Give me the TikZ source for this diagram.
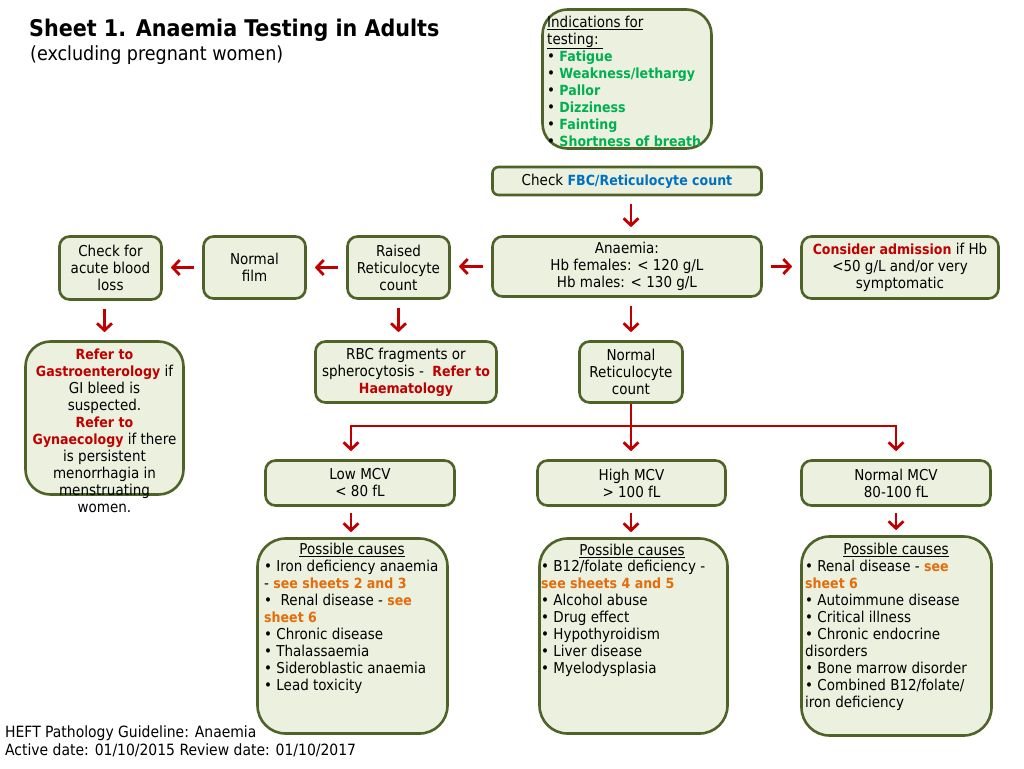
\documentclass[tikz,border=0pt]{standalone}
\usepackage{fontspec}
\setmainfont{DejaVu Sans Condensed}
\usetikzlibrary{arrows.meta}
\definecolor{boxfill}{HTML}{EBF1DE}
\definecolor{boxline}{HTML}{4F6228}
\definecolor{myred}{HTML}{C00000}
\definecolor{mygreen}{HTML}{00B050}
\definecolor{myblue}{HTML}{0070C0}
\definecolor{myorange}{HTML}{E46C0A}
\newcommand{\bsz}{\fontsize{14}{17}\selectfont\bfseries}
\newcommand{\rd}[1]{{\bsz\textcolor{myred}{#1}}}
\newcommand{\gr}[1]{{\bsz\textcolor{mygreen}{#1}}}
\newcommand{\og}[1]{{\bsz\textcolor{myorange}{#1}}}
\newcommand{\fs}{\fontsize{15}{17}\selectfont}
\begin{document}
\begin{tikzpicture}[x=1pt,y=-1pt,
  box/.style={draw=boxline, fill=boxfill, line width=2.6pt, rounded corners=10pt, inner sep=0pt, align=center, font=\fs},
  bigbox/.style={box, rounded corners=28pt},
  txt/.style={inner sep=0pt, font=\fs},
  arr/.style={draw=myred, line width=2.8pt, -{Straight Barb[length=7pt,width=15pt]}, shorten >=8pt, shorten <=8pt},
  link/.style={draw=myred, line width=2.8pt}]
\useasboundingbox (0,0) rectangle (1024,768);
\fill[white] (0,0) rectangle (1024,768);

% title
\node[txt, anchor=west, font=\fontsize{23}{26}\selectfont\bfseries] (title) at (29,30.5) {Sheet 1. Anaemia Testing in Adults};
\node[txt, anchor=west, font=\fontsize{19.5}{20}\selectfont] (sub) at (30,55.5) {(excluding pregnant women)};

% indications
\node[bigbox, minimum width=169pt, minimum height=139pt, rounded corners=25pt] (ind) at (627,79) {};
\node[txt, align=left, anchor=west] (indt) at (547,81) {\underline{Indications for}\\\underline{testing:~}\\
• \gr{Fatigue}\\• \gr{Weakness/lethargy}\\• \gr{Pallor}\\• \gr{Dizziness}\\• \gr{Fainting}\\• \gr{Shortness of breath}};

\node[box, rounded corners=6pt, minimum width=269pt, minimum height=28pt] (fbc) at (627,181) {Check {\bsz\textcolor{myblue}{FBC/Reticulocyte count}}};

\node[box, minimum width=269pt, minimum height=60pt] (anae) at (627,266.5) {Anaemia:\\Hb females: < 120 g/L\\Hb males: < 130 g/L};

\node[box, minimum width=197pt, minimum height=62pt] (cons) at (900,267.5) {\rd{Consider admission} if Hb\\<50 g/L and/or very\\symptomatic};

\node[box, minimum width=102pt, minimum height=62pt] (rais) at (398.5,267.5) {Raised\\Reticulocyte\\count};
\node[box, minimum width=102pt, minimum height=62pt] (film) at (254.5,267.5) {Normal\\film};
\node[box, minimum width=102pt, minimum height=63pt] (chk) at (110.5,268) {Check for\\acute blood\\loss};

\node[bigbox, minimum width=158pt, minimum height=153pt, rounded corners=25pt] (refl) at (104.5,418) {};
\node[txt, align=center] (reflt) at (104.5,430.5) {\rd{Refer to}\\\rd{Gastroenterology} if\\GI bleed is\\suspected.\\\rd{Refer to}\\\rd{Gynaecology} if there\\is persistent\\menorrhagia in\\menstruating\\women.};

\node[box, minimum width=181pt, minimum height=61pt] (rbc) at (406,372) {RBC fragments or\\spherocytosis - \ \rd{Refer to}\\\rd{Haematology}};
\node[box, minimum width=103pt, minimum height=61pt] (nret) at (631,372) {Normal\\Reticulocyte\\count};

\node[box, minimum width=189pt, minimum height=45pt] (low) at (360,483) {Low MCV\\< 80 fL};
\node[box, minimum width=188pt, minimum height=45pt] (high) at (631.5,483) {High MCV\\> 100 fL};
\node[box, minimum width=189pt, minimum height=45pt] (nmcv) at (896,483) {Normal MCV\\80-100 fL};

% possible causes
\node[bigbox, minimum width=190pt, minimum height=195pt] (c1) at (352.5,636) {};
\node[txt] (c1h) at (352,549.5) {\underline{Possible causes}};
\node[txt, align=left, anchor=west] (c1t) at (264,627) {• Iron deficiency anaemia\\- \og{see sheets 2 and 3}\\•\ \ Renal disease - \og{see}\\\og{sheet 6}\\• Chronic disease\\• Thalassaemia\\• Sideroblastic anaemia\\• Lead toxicity};

\node[bigbox, minimum width=188pt, minimum height=195pt] (c2) at (633.5,636) {};
\node[txt] (c2h) at (632,550.5) {\underline{Possible causes}};
\node[txt, align=left, anchor=west] (c2t) at (541,618.5) {• B12/folate deficiency -\\\og{see sheets 4 and 5}\\• Alcohol abuse\\• Drug effect\\• Hypothyroidism\\• Liver disease\\• Myelodysplasia};

\node[bigbox, minimum width=190pt, minimum height=199pt] (c3) at (896.5,636) {};
\node[txt] (c3h) at (896,549.5) {\underline{Possible causes}};
\node[txt, align=left, anchor=west] (c3t) at (805,635) {• Renal disease - \og{see}\\\og{sheet 6}\\• Autoimmune disease\\• Critical illness\\• Chronic endocrine\\disorders\\• Bone marrow disorder\\• Combined B12/folate/\\iron deficiency};

% footer
\node[txt, anchor=west, font=\fontsize{15.5}{17}\selectfont] (f1) at (5,733) {HEFT Pathology Guideline: Anaemia};
\node[txt, anchor=west, font=\fontsize{15.5}{17}\selectfont] (f2) at (5,750) {Active date: 01/10/2015 Review date: 01/10/2017};

% connectors
\draw[arr] (fbc.south -| nret.north) -- (anae.north -| nret.north);
\draw[arr] (anae.east) -- (cons.west |- anae.east);
\draw[arr] (anae.west) -- (rais.east |- anae.west);
\draw[arr] (rais.west) -- (film.east);
\draw[arr] (film.west) -- (chk.east |- film.west);
\draw[arr] (refl.north |- chk.south) -- (refl.north);
\draw[arr] (rais.south) -- (rais.south |- rbc.north);
\draw[arr] (nret.north |- anae.south) -- (nret.north);

\coordinate (bl) at (351,426);
\coordinate (bm) at (631,426);
\coordinate (br) at (896,426);
\draw[link] (nret.south) -- (bm);
\draw[link] (bl) -- (br);
\draw[arr, shorten <=0pt] (bm) -- (bm |- high.north);
\draw[arr, shorten <=-1.4pt] (bl) -- (bl |- low.north);
\draw[arr, shorten <=-1.4pt] (br) -- (br |- nmcv.north);

\draw[arr, shorten <=6pt, shorten >=5pt] (bl |- low.south) -- (bl |- c1.north);
\draw[arr, shorten <=6pt, shorten >=5pt] (bm |- high.south) -- (bm |- c2.north);
\draw[arr, shorten <=6pt, shorten >=5pt] (br |- nmcv.south) -- (br |- c3.north);
\end{tikzpicture}
\end{document}
